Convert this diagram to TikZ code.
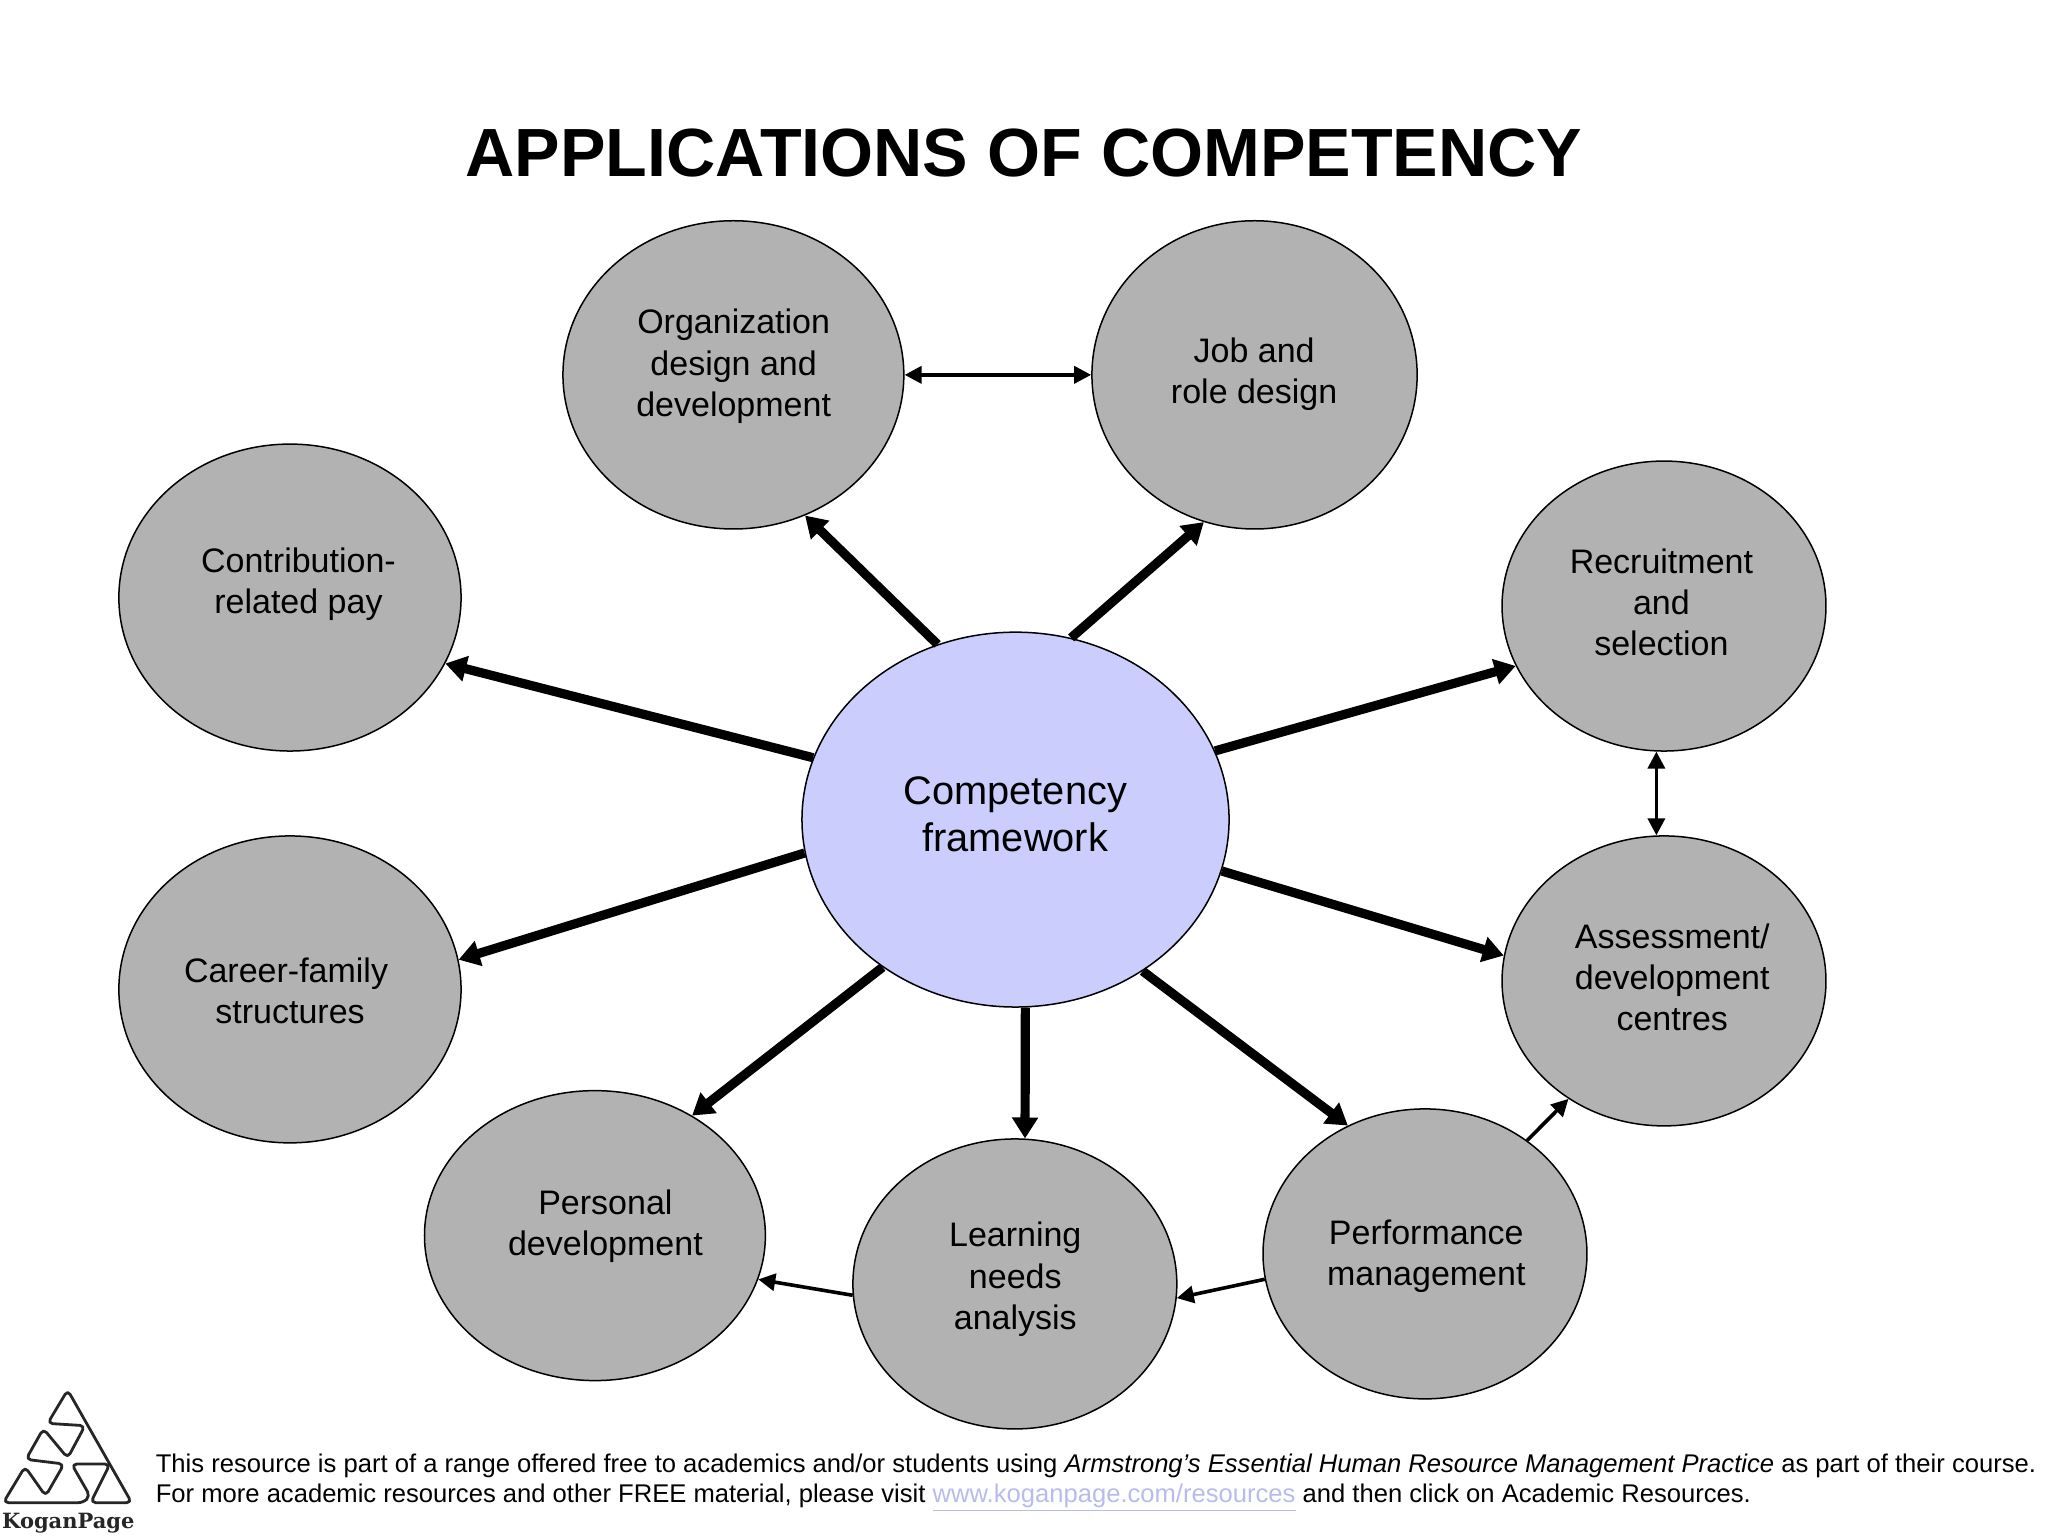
\documentclass[tikz,border=0pt]{standalone}
\usepackage{fontspec}
\setmainfont{Liberation Sans}
\newfontfamily\logofont{DejaVu Serif}
\usetikzlibrary{shapes.geometric,arrows.meta}
\definecolor{blobgrey}{HTML}{B2B2B2}
\definecolor{coreblue}{HTML}{CBCDFC}
\definecolor{linkblue}{HTML}{B9BBEE}
\newlength{\pu}\setlength{\pu}{0.65306pt}
\tikzset{
  x=\pu,y=-\pu,
  blob/.style n args={2}{ellipse,draw=black,line width=0.75pt,fill=blobgrey,inner sep=0pt,minimum width=#1*\pu,minimum height=#2*\pu},
  core/.style={blob={327}{287},fill=coreblue},
  label text/.style={align=center,inner sep=0pt,font=\fontsize{17}{20.6}\selectfont},
  core text/.style={align=center,inner sep=0pt,font=\fontsize{19.9}{23.6}\selectfont},
  thick link/.style={line width=4.6pt,-{Triangle[length=10.5pt,width=12.5pt]}},
  thin link/.style={line width=1.8pt,-{Triangle[length=8.5pt,width=8.5pt]}},
  both link/.style={line width=1.8pt,{Triangle[length=8.5pt,width=8.5pt]}-{Triangle[length=8.5pt,width=8.5pt]}},
}
\begin{document}
\begin{tikzpicture}
\useasboundingbox (0,0) rectangle (1568,1176);
\node[font=\fontsize{34.1}{40}\selectfont\bfseries,inner sep=0pt] (title) at (784,117) {APPLICATIONS OF COMPETENCY};

\node[blob={261}{236}] (org) at (561.5,287) {};
\node[blob={249}{236}] (job) at (960.5,287) {};
\node[blob={262}{235}] (pay) at (222,457.5) {};
\node[blob={262}{235}] (fam) at (222,757.5) {};
\node[blob={248}{222}] (rec) at (1274,464) {};
\node[blob={248}{222}] (ass) at (1274,751) {};
\node[blob={248}{222}] (perf) at (1091,960) {};
\node[blob={248}{222}] (learn) at (777,983) {};
\node[blob={261}{222}] (pers) at (455.5,946) {};
\node[core] (comp) at (777.5,627.5) {};

\node[label text] (torg) at (561.7,280.5) {Organization\\design and\\development};
\node[label text] (tjob) at (960.2,286.5) {Job and\\role design};
\node[label text] (tpay) at (228.5,447.5) {Contribution-\\related pay};
\node[label text] (tfam) at (219,758.5) {Career-family\\\hspace*{4pt}structures};
\node[label text] (trec) at (1272,461) {Recruitment\\and\\selection};
\node[label text] (tass) at (1280.3,748.3) {Assessment/\\development\\centres};
\node[label text] (tperf) at (1092,961.5) {Performance\\management};
\node[label text] (tlearn) at (777.3,979.5) {Learning\\needs\\analysis};
\node[label text] (tpers) at (463.5,938.5) {Personal\\development};
\node[core text] (tcomp) at (777.3,623.5) {Competency\\framework};

\draw[thick link] (comp.114.7) -- (org.-63.6);
\draw[thick link] (comp.73.8) -- (job.-109.7);
\draw[thick link] (comp.163.4) -- (pay.-23.4);
\draw[thick link] (comp.189.7) -- (fam.10.8);
\draw[thick link] (comp.19.1) -- (rec.202.1);
\draw[thick link] (comp.-14.9) -- (ass.171.7);
\draw[thick link] (comp.-50) -- (perf.121);
\draw[thick link] (comp.-87.4) -- (learn.86.4);
\draw[thick link] (comp.228.5) -- (pers.51.4);

\draw[both link] (org.east) -- (job.west);
\draw[both link] (rec.-93.3) -- (ass.93.3);
\draw[thin link] (perf.48.5) -- (ass.-129.8);
\draw[thin link] (perf.189.2) -- (learn.-5);
\draw[thin link] (learn.184.3) -- (pers.-15.3);

\node[anchor=west,align=left,inner sep=0pt,font=\fontsize{12.8}{15}\selectfont] (foot) at (119,1135.5)
  {This resource is part of a range offered free to academics and/or students using \textit{Armstrong’s Essential Human Resource Management Practice} as part of their course.\\
   For more academic resources and other FREE material, please visit \textcolor{linkblue}{\underline{www.koganpage.com/resources}} and then click on Academic Resources.};

\begin{scope}[x=0.16667pt,y=-0.16667pt,yshift=-685pt]
\draw[line width=1.4pt,rounded corners=2.5pt,line join=round,draw=black!85] (203,60) -- (395,398) -- (272,398) -- (330,282) -- (215,282) -- (270,378) -- (250,398) -- (10,398) -- (75,290) -- (137,378) -- (192,282) -- (78,268) -- (130,176) -- (203,264) -- (255,167) -- (143,160) -- cycle;
\node[inner sep=0pt,font=\logofont\bfseries\fontsize{10.5}{12}\selectfont,text=black!85] (logo) at (205,458) {KoganPage};
\end{scope}
\end{tikzpicture}
\end{document}
